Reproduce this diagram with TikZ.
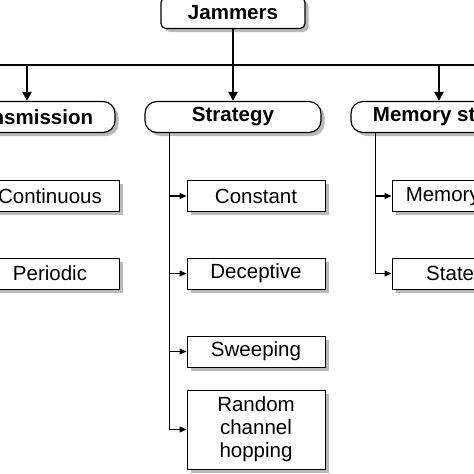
\documentclass[tikz,border=0pt]{standalone}
\usepackage{fontspec}
\setmainfont{Liberation Sans}
\usetikzlibrary{arrows.meta,shadows}
\begin{document}
\begin{tikzpicture}[x=1pt,y=-1pt,
  shad/.style={drop shadow={shadow xshift=3.5pt,shadow yshift=-3.5pt,fill=black!45,opacity=0.6}},
  topbox/.style={draw,line width=1.2pt,fill=white,shad,rounded corners=5pt,minimum width=144pt,minimum height=31pt,inner sep=0pt,font=\fontsize{20.5}{23}\selectfont\bfseries},
  catbox/.style={draw,line width=1.2pt,fill=white,shad,rounded corners=12pt,minimum width=176pt,minimum height=31pt,inner sep=0pt,font=\fontsize{20.5}{23}\selectfont\bfseries},
  leafbox/.style={draw,line width=1pt,fill=white,shad,minimum width=138pt,minimum height=31pt,inner sep=0pt,align=center,font=\fontsize{20.5}{23}\selectfont},
  mainline/.style={line width=2.2pt},
  mainarrow/.style={line width=2.2pt,-{Triangle[length=9pt,width=9pt]}},
  subarrow/.style={line width=1.1pt,-{Triangle[length=7pt,width=6pt]}}
]
\useasboundingbox (0,0) rectangle (474,474);
\begin{scope}
\clip (0,0) rectangle (474,474);
\node[topbox] (jam) at (233,13) {Jammers};
\node[catbox] (trans) at (27,117) {Transmission};
\node[catbox] (strat) at (233,117) {Strategy};
\node[catbox] (mem) at (439,117) {Memory state};

\node[leafbox] (cont) at (50,196) {Continuous};
\node[leafbox] (per) at (50,273.5) {Periodic};
\node[leafbox] (const) at (256,196) {Constant};
\node[leafbox] (dec) at (256,273.5) {Deceptive};
\node[leafbox] (sweep) at (256,351.5) {Sweeping};
\node[leafbox,minimum height=79pt] (rand) at (256,429.5) {Random\\channel\\hopping};
\node[leafbox] (meml) at (461,196) {Memoryless};
\node[leafbox] (statef) at (461,273.5) {Stateful};

\coordinate (hl) at (-10,65);
\coordinate (hr) at (484,65);
\draw[mainline] (hl) -- (hr);
\draw[mainline] (jam.south) -- (jam.south |- hl);
\draw[mainarrow] (trans.north |- hl) -- (trans.north);
\draw[mainarrow] (strat.north |- hl) -- (strat.north);
\draw[mainarrow] (mem.north |- hl) -- (mem.north);

\coordinate (ts) at ([xshift=25pt]trans.south west);
\coordinate (ss) at ([xshift=25pt]strat.south west);
\coordinate (ms) at ([xshift=25pt]mem.south west);
\draw[line width=1.1pt] (ts) -- (ts |- per.west);
\draw[line width=1.1pt] (ss) -- (ss |- rand.west);
\draw[line width=1.1pt] (ms) -- (ms |- statef.west);
\draw[subarrow] (ts |- cont.west) -- (cont.west);
\draw[subarrow] (ts |- per.west) -- (per.west);
\draw[subarrow] (ss |- const.west) -- (const.west);
\draw[subarrow] (ss |- dec.west) -- (dec.west);
\draw[subarrow] (ss |- sweep.west) -- (sweep.west);
\draw[subarrow] (ss |- rand.west) -- (rand.west);
\draw[subarrow] (ms |- meml.west) -- (meml.west);
\draw[subarrow] (ms |- statef.west) -- (statef.west);
\end{scope}
\end{tikzpicture}
\end{document}
